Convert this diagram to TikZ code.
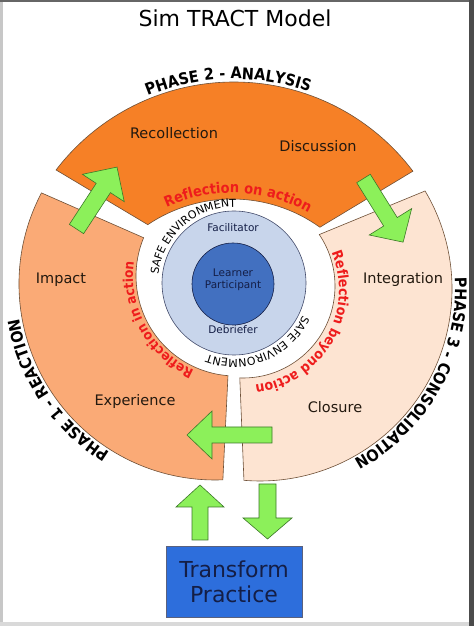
\documentclass[tikz,border=0pt]{standalone}
\usepackage{fontspec}
\setmainfont{DejaVu Sans}
\newfontfamily\phasefont[FakeStretch=0.9]{DejaVu Sans}
\usetikzlibrary{decorations.text,calc}
\definecolor{ph2}{RGB}{246,128,38}
\definecolor{ph1}{RGB}{250,170,118}
\definecolor{ph3}{RGB}{253,228,210}
\definecolor{lblue}{RGB}{200,213,235}
\definecolor{dblue}{RGB}{66,112,192}
\definecolor{boxblue}{RGB}{45,110,220}
\definecolor{agreen}{RGB}{140,240,90}
\definecolor{agreenline}{RGB}{60,120,40}
\definecolor{reflred}{RGB}{238,28,28}
\definecolor{edgec}{RGB}{110,80,55}
\definecolor{navy}{RGB}{20,30,70}
\definecolor{lbltext}{RGB}{35,25,15}
\tikzset{
  sector/.style={draw=edgec, line width=0.6pt, line join=miter},
  arrowstyle/.style={fill=agreen, draw=agreenline, line width=0.6pt, line join=miter},
  lbl/.style={font=\fontsize{14.5}{16}\selectfont, text=lbltext, inner sep=0pt},
  innerlbl/.style={font=\fontsize{10.5}{12}\selectfont, text=navy, inner sep=0pt, align=center},
  pics/blockarrow/.style args={#1/#2/#3/#4}{code={
    \draw[arrowstyle] (0,-#2/2) -- (#1-#4,-#2/2) -- (#1-#4,-#3/2) -- (#1,0)
      -- (#1-#4,#3/2) -- (#1-#4,#2/2) -- (0,#2/2) -- cycle;
  }}
}
\begin{document}
\begin{tikzpicture}[x=1pt,y=1pt]
\useasboundingbox (0,0) rectangle (474,626);
% frame
\fill[white] (0,0) rectangle (474,626);
\fill[black!22] (0,0) rectangle (3,626);
\fill[black!15] (0,0) rectangle (474,4);
\fill[black!60] (0,624) rectangle (474,626);
\fill[black!70] (469,0) rectangle (474,626);

% centres
\coordinate (O2) at (234,320);
\coordinate (I2) at (232,276);
\coordinate (O1) at (215,342);
\coordinate (I1) at (236,350);
\coordinate (O3) at (260,337);
\coordinate (I3) at (243,340);
\coordinate (T3) at (243,336);
\coordinate (C) at (234,343);

% title
\node[font=\fontsize{22}{24}\selectfont] (title) at (235,608) {Sim TRACT Model};

% sectors
\filldraw[sector, fill=ph2] ($(O2)+(142.6:224pt)$) arc[start angle=142.6, end angle=37, radius=224pt]
  -- ($(I2)+(54.4:151pt)$) arc[start angle=54.4, end angle=123.9, radius=151pt] -- cycle;
\filldraw[sector, fill=ph1] ($(O1)+(152.3:196pt)$) arc[start angle=152.3, end angle=272.3, radius=196pt]
  -- ($(I1)+(265.4:100pt)$) arc[start angle=265.4, end angle=157.5, radius=100pt] -- cycle;
\filldraw[sector, fill=ph3] ($(O3)+(30.7:192pt)$) arc[start angle=30.7, end angle=-94.8, radius=192pt]
  -- ($(I3)+(-92:92pt)$) arc[start angle=-92, end angle=34, radius=92pt] -- cycle;

% centre circles
\node[circle, draw=navy!80, line width=0.6pt, fill=lblue, minimum size=144pt, inner sep=0pt] (safe) at (C) {};
\node[circle, draw=navy, line width=0.6pt, fill=dblue, minimum size=82pt, inner sep=0pt] (core) at (233,342) {};

% phase titles
\path[decorate, decoration={text along path, text align=center,
  text={|\phasefont\bfseries\fontsize{16}{16}\selectfont|PHASE 2 - ANALYSIS}}]
  ($(O2)+(151.5:227pt)$) arc[start angle=151.5, end angle=31.5, radius=227pt];
\path[decorate, decoration={text along path, text align=center,
  text={|\phasefont\bfseries\fontsize{16}{16}\selectfont|PHASE 1 - REACTION}}]
  ($(O1)+(274:199pt)$) arc[start angle=274, end angle=154, radius=199pt];
\path[decorate, decoration={text along path, text align=center,
  text={|\phasefont\bfseries\fontsize{16}{16}\selectfont|PHASE 3 - CONSOLIDATION}}]
  ($(O3)+(36:195pt)$) arc[start angle=36, end angle=-94, radius=195pt];

% reflection texts
\path[decorate, decoration={text along path, text align=center, text color=reflred,
  text={|\phasefont\bfseries\fontsize{14.5}{14.5}\selectfont|Reflection on action}}]
  ($(I2)+(137.7:157pt)$) arc[start angle=137.7, end angle=37.7, radius=157pt];
\path[decorate, decoration={text along path, text align=center, text color=reflred,
  text={|\phasefont\bfseries\fontsize{13.5}{13.5}\selectfont|Reflection in action}}]
  ($(I1)+(269:103pt)$) arc[start angle=269, end angle=149, radius=103pt];
\path[decorate, decoration={text along path, text align=center, text color=reflred,
  text={|\phasefont\bfseries\fontsize{14}{14}\selectfont|Reflection beyond action}}]
  ($(T3)+(40:96pt)$) arc[start angle=40, end angle=-100, radius=96pt];

% safe environment
\path[decorate, decoration={text along path, text align=center,
  text={|\fontsize{11}{11}\selectfont|SAFE ENVIRONMENT}}]
  ($(C)+(191:76pt)$) arc[start angle=191, end angle=71, radius=76pt];
\path[decorate, decoration={text along path, text align=center,
  text={|\fontsize{11}{11}\selectfont|SAFE ENVIRONMENT}}]
  ($(C)+(-8:76pt)$) arc[start angle=-8, end angle=-128, radius=76pt];

% labels
\node[lbl] (recoll) at (174,493) {Recollection};
\node[lbl] (discuss) at (318,480) {Discussion};
\node[lbl] (impact) at (61,346) {Impact};
\node[lbl] (exper) at (135,224) {Experience};
\node[lbl] (integ) at (403,346) {Integration};
\node[lbl] (closure) at (335,219) {Closure};
\node[innerlbl] (facil) at (233,398) {Facilitator};
\node[innerlbl] (learner) at (233,346) {Learner\\Participant};
\node[innerlbl] (debrief) at (233,296) {Debriefer};

% green arrows
\pic[rotate=56.8] (arrA) at (76.5,397) {blockarrow=74/17/50/25};
\pic[rotate=-58.1] (arrB) at (363.5,447.5) {blockarrow=75/16/50/24};
\pic[rotate=180] (arrC) at (272,191) {blockarrow=85/16/48/25};
\pic[rotate=90] (arrD) at (200,86) {blockarrow=55/16/48/22};
\pic[rotate=-90] (arrE) at (267.5,142) {blockarrow=55/17/49/21};

% transform practice box
\node[draw=navy!70, line width=0.6pt, fill=boxblue, minimum width=136pt, minimum height=71pt,
  inner sep=0pt, align=center, text=navy, font=\fontsize{22}{25}\selectfont] (tp) at (234,44.5) {Transform\\Practice};
\end{tikzpicture}
\end{document}
